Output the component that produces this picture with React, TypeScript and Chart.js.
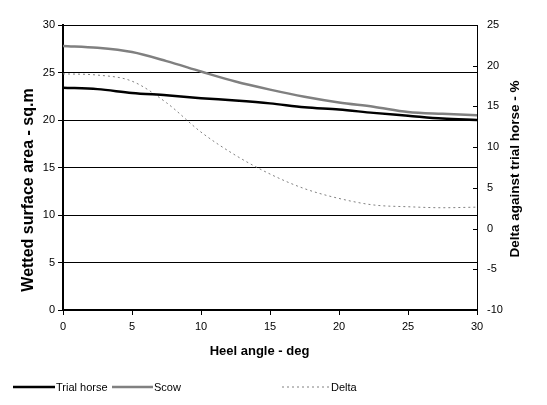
import { useEffect, useRef } from "react";
import Chart from "chart.js/auto";

const heelAngles = [0, 2.5, 5, 7.5, 10, 12.5, 15, 17.5, 20, 22.5, 25, 27.5, 30];
const trialHorse = [23.4, 23.25, 22.85, 22.6, 22.3, 22.05, 21.75, 21.35, 21.1, 20.75, 20.45, 20.15, 20.0];
const scow = [27.8, 27.6, 27.15, 26.2, 25.1, 24.05, 23.2, 22.45, 21.85, 21.4, 20.85, 20.65, 20.5];
const delta = [19.0, 18.85, 18.1, 15.45, 11.85, 9.0, 6.7, 4.9, 3.7, 2.9, 2.68, 2.56, 2.63];

const FONT = "'Liberation Sans', Arial, sans-serif";

// axis titles, legend and the little inside ticks on the right axis
const overlay = {
  id: "overlay",
  afterDraw(chart: any) {
    const { ctx, chartArea } = chart;
    ctx.save();
    ctx.fillStyle = "#000";
    ctx.textBaseline = "middle";
    ctx.textAlign = "center";

    ctx.font = `bold 13px ${FONT}`;
    ctx.fillText("Heel angle - deg", 259.5, 351);

    ctx.save();
    ctx.translate(28.5, 190);
    ctx.rotate(-Math.PI / 2);
    ctx.font = `bold 16px ${FONT}`;
    ctx.fillText("Wetted surface area - sq.m", 0, 0);
    ctx.restore();

    ctx.save();
    ctx.translate(515, 169);
    ctx.rotate(-Math.PI / 2);
    ctx.font = `bold 13.5px ${FONT}`;
    ctx.fillText("Delta against trial horse - %", 0, 0);
    ctx.restore();

    // right axis tick marks, drawn inside the plot
    const y2 = chart.scales.y2;
    ctx.strokeStyle = "#000";
    ctx.lineWidth = 1;
    y2.ticks.forEach((t: any) => {
      const py = Math.round(y2.getPixelForValue(t.value)) + 0.5;
      ctx.beginPath();
      ctx.moveTo(chartArea.right - 4, py);
      ctx.lineTo(chartArea.right, py);
      ctx.stroke();
    });

    // legend
    const slots = [
      { x0: 13, x1: 55 },
      { x0: 112, x1: 153 },
      { x0: 282, x1: 330 },
    ];
    ctx.font = `11px ${FONT}`;
    ctx.textAlign = "left";
    chart.data.datasets.forEach((ds: any, i: number) => {
      const s = slots[i];
      const ly = 387;
      ctx.save();
      ctx.strokeStyle = ds.borderColor;
      ctx.lineWidth = ds.borderWidth;
      ctx.setLineDash(ds.borderDash || []);
      ctx.beginPath();
      ctx.moveTo(s.x0, ly);
      ctx.lineTo(s.x1, ly);
      ctx.stroke();
      ctx.restore();
      ctx.fillText(ds.label, s.x1 + 1, ly + 0.5);
    });
    ctx.restore();
  },
};

export default function App() {
  const canvasRef = useRef<HTMLCanvasElement>(null);

  useEffect(() => {
    document.body.style.margin = "0";
    const ctx = canvasRef.current?.getContext("2d");
    if (!ctx) return;
    const chart = new Chart(ctx, {
      type: "line",
      data: {
        labels: heelAngles,
        datasets: [
          {
            label: "Trial horse",
            data: heelAngles.map((x, i) => ({ x, y: trialHorse[i] })),
            borderColor: "#000000",
            borderWidth: 2.5,
            pointRadius: 0,
            cubicInterpolationMode: "monotone",
            yAxisID: "y",
          },
          {
            label: "Scow",
            data: heelAngles.map((x, i) => ({ x, y: scow[i] })),
            borderColor: "#808080",
            borderWidth: 2.5,
            pointRadius: 0,
            cubicInterpolationMode: "monotone",
            yAxisID: "y",
          },
          {
            label: "Delta",
            data: heelAngles.map((x, i) => ({ x, y: delta[i] })),
            borderColor: "#808080",
            borderWidth: 1,
            borderDash: [2, 3],
            pointRadius: 0,
            cubicInterpolationMode: "monotone",
            yAxisID: "y2",
          },
        ],
      },
      options: {
        animation: false,
        responsive: true,
        maintainAspectRatio: false,
        layout: { padding: { top: 25, left: 0, right: 0, bottom: 0 } },
        plugins: {
          legend: { display: false },
          tooltip: { enabled: false },
        },
        scales: {
          x: {
            type: "linear",
            min: 0,
            max: 30,
            ticks: { stepSize: 5, color: "#000", font: { family: FONT, size: 11 }, padding: 5, maxRotation: 0 },
            grid: { drawOnChartArea: false, drawTicks: true, tickLength: 5, color: "#000" },
            border: { color: "#000", width: 2 },
            afterFit: (s: any) => {
              s.height = 95;
            },
          },
          y: {
            position: "left",
            min: 0,
            max: 30,
            ticks: { stepSize: 5, color: "#000", font: { family: FONT, size: 11 }, padding: 3 },
            grid: { color: "#000", lineWidth: 1, tickLength: 5, tickColor: "#000" },
            border: { color: "#000", width: 2 },
            afterFit: (s: any) => {
              s.width = 63;
            },
          },
          y2: {
            position: "right",
            min: -10,
            max: 25,
            ticks: { stepSize: 5, color: "#000", font: { family: FONT, size: 11 }, padding: 10 },
            grid: { display: false, drawTicks: false },
            border: { display: true, color: "#000", width: 1, dash: [1, 2] },
            afterFit: (s: any) => {
              s.width = 70;
            },
          },
        },
      },
      plugins: [overlay],
    });
    return () => chart.destroy();
  }, []);

  return (
    <div style={{ position: "fixed", left: 0, top: 0, width: 547, height: 405, background: "#fff" }}>
      <canvas ref={canvasRef} />
    </div>
  );
}
